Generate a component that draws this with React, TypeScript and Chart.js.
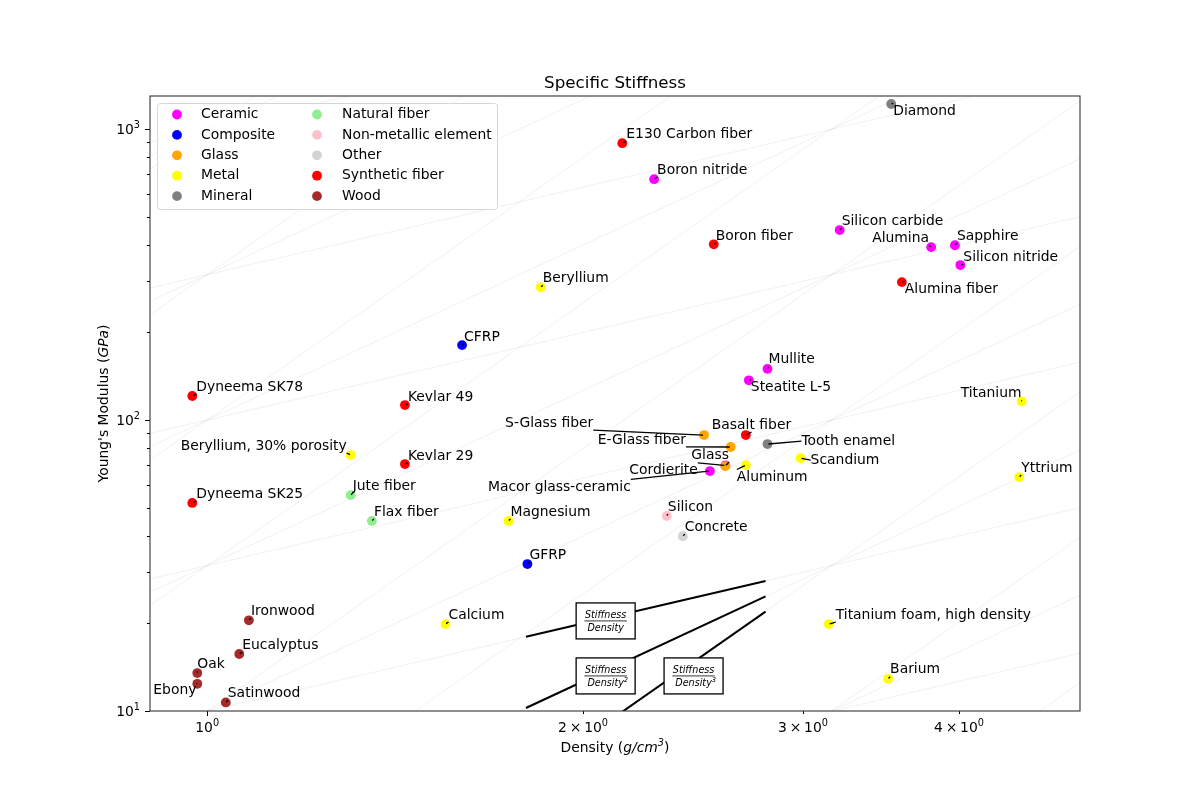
import React, { useEffect, useRef } from 'react';
import { Chart, registerables } from 'chart.js';

Chart.register(...registerables);

const FONT = '"DejaVu Sans", sans-serif';

// ---------- data ----------
const categories = [
  'Ceramic', 'Composite', 'Glass', 'Metal', 'Mineral',
  'Natural fiber', 'Non-metallic element', 'Other', 'Synthetic fiber', 'Wood',
];
const categoryColors = [
  '#ff00ff', '#0000ff', '#ffa500', '#ffff00', '#808080',
  '#90ee90', '#ffc0cb', '#d3d3d3', '#ff0000', '#a52a2a',
];

const materialNames = [
  'Diamond', 'E130 Carbon fiber', 'Boron nitride', 'Silicon carbide', 'Alumina',
  'Sapphire', 'Silicon nitride', 'Boron fiber', 'Alumina fiber', 'Beryllium',
  'CFRP', 'Mullite', 'Steatite L-5', 'Dyneema SK78', 'Kevlar 49',
  'Titanium', 'S-Glass fiber', 'Basalt fiber', 'E-Glass fiber', 'Tooth enamel',
  'Beryllium, 30% porosity', 'Kevlar 29', 'Glass', 'Scandium', 'Yttrium',
  'Cordierite', 'Aluminum', 'Macor glass-ceramic', 'Jute fiber', 'Dyneema SK25',
  'Silicon', 'Magnesium', 'Flax fiber', 'Concrete', 'GFRP',
  'Ironwood', 'Calcium', 'Titanium foam, high density', 'Eucalyptus', 'Oak',
  'Barium', 'Ebony', 'Satinwood',
];
const materialCategories = [
  'Mineral', 'Synthetic fiber', 'Ceramic', 'Ceramic', 'Ceramic',
  'Ceramic', 'Ceramic', 'Synthetic fiber', 'Synthetic fiber', 'Metal',
  'Composite', 'Ceramic', 'Ceramic', 'Synthetic fiber', 'Synthetic fiber',
  'Metal', 'Glass', 'Synthetic fiber', 'Glass', 'Mineral',
  'Metal', 'Synthetic fiber', 'Glass', 'Metal', 'Metal',
  'Ceramic', 'Metal', 'Ceramic', 'Natural fiber', 'Synthetic fiber',
  'Non-metallic element', 'Metal', 'Natural fiber', 'Other', 'Composite',
  'Wood', 'Metal', 'Metal', 'Wood', 'Wood',
  'Metal', 'Wood', 'Wood',
];
// density in g/cm^3
const densities = [
  3.53, 2.15, 2.28, 3.21, 3.80,
  3.97, 4.01, 2.545, 3.60, 1.85,
  1.60, 2.81, 2.715, 0.973, 1.44,
  4.49, 2.50, 2.70, 2.626, 2.81,
  1.303, 1.44, 2.60, 2.987, 4.47,
  2.60, 2.70, 2.527, 1.303, 0.973,
  2.334, 1.743, 1.355, 2.404, 1.805,
  1.08, 1.552, 3.146, 1.061, 0.982,
  3.51, 0.982, 1.035,
];
// Young's modulus in GPa
const moduli = [
  1220, 895, 673, 450, 393,
  399, 341, 402, 298, 286,
  181, 150, 137, 121, 112.6,
  116, 88.8, 88.8, 80.8, 82.7,
  75.8, 70.6, 69.5, 74, 63.7,
  69.8, 70, 66.8, 55.2, 51.9,
  46.8, 45.0, 45.0, 39.9, 32.0,
  20.5, 19.9, 19.9, 15.7, 13.5,
  12.9, 12.4, 10.7,
];

// reference lines: E = c * rho^n
const guideExponents = [1, 2, 3];
const guideConstants = [0.1, 0.316, 1, 3.16, 10, 31.6, 100, 316, 1000, 3162];
const stiffLineExponents = [1, 2, 3];
const stiffLineConstants = [10, 3.16, 1];
const stiffLineRange = [1.8, 2.8];

const xTicks = [1, 2, 3, 4];
const xTickMantissa = ['', '2', '3', '4'];
const yTicks = [10, 20, 30, 40, 50, 60, 70, 80, 90, 100, 200, 300, 400, 500, 600, 700, 800, 900, 1000];
const yMajorTicks = [10, 100, 1000];
const yMajorExponents = ['1', '2', '3'];

// ---------- layout (pixels / annotation anchors) ----------
const labelOffsets: [number, number][] = [
  [2, 7], [4, -9], [3, -9], [2, -9], [-59, -9],
  [2, -9], [3, -8], [2, -8], [3, 7], [2, -9],
  [2, -8], [1, -9], [2, 7], [4, -9], [3, -8],
  [-61, -8], [-199, -12], [-34, -10], [-133, -7], [34, -3],
  [-170, -9], [3, -8], [-34, -11], [10, 2], [2, -9],
  [-96, 5], [-9, 12], [-222, 16], [2, -9], [4, -9],
  [1, -9], [2, -9], [2, -9], [2, -9], [2, -9],
  [2, -9], [3, -9], [7, -9], [3, -9], [0, -9],
  [2, -9], [-44, 7], [2, -9],
];
const boxAnchorsX = [2.085, 2.085, 2.452];
const boxAnchorsY = [20.4, 13.2, 13.2];
const boxPowers = ['', '2', '3'];

type Run = { t: string; it?: boolean; sup?: boolean };

function fontFor(r: Run, size: number) {
  return `${r.it ? 'italic ' : ''}${r.sup ? size * 0.7 : size}px ${FONT}`;
}

function runsWidth(ctx: CanvasRenderingContext2D, runs: Run[], size: number) {
  let w = 0;
  for (const r of runs) {
    ctx.font = fontFor(r, size);
    w += ctx.measureText(r.t).width;
  }
  return w;
}

function drawRuns(ctx: CanvasRenderingContext2D, runs: Run[], x: number, y: number, size: number, align: 'center' | 'left' | 'right' = 'center') {
  const total = runsWidth(ctx, runs, size);
  let cx = align === 'center' ? x - total / 2 : align === 'right' ? x - total : x;
  ctx.textAlign = 'left';
  ctx.textBaseline = 'alphabetic';
  for (const r of runs) {
    ctx.font = fontFor(r, size);
    ctx.fillText(r.t, cx, r.sup ? y - size * 0.42 : y);
    cx += ctx.measureText(r.t).width;
  }
}

const overlayPlugin = {
  id: 'overlay',
  afterDatasetsDraw(chart: any) {
    const ctx: CanvasRenderingContext2D = chart.ctx;
    const xs = chart.scales.x;
    const ys = chart.scales.y;
    const area = chart.chartArea;
    ctx.save();

    // boxed formula labels
    for (let i = 0; i < boxAnchorsX.length; i++) {
      const cx = xs.getPixelForValue(boxAnchorsX[i]);
      const cy = ys.getPixelForValue(boxAnchorsY[i]);
      const bw = 59, bh = 36;
      ctx.fillStyle = '#ffffff';
      ctx.fillRect(cx - bw / 2, cy - bh / 2, bw, bh);
      ctx.strokeStyle = '#000000';
      ctx.lineWidth = 1.3;
      ctx.strokeRect(cx - bw / 2, cy - bh / 2, bw, bh);
      ctx.fillStyle = '#000';
      const fs = 9.6;
      const num: Run[] = [{ t: 'Stiffness', it: true }];
      const den: Run[] = [{ t: 'Density', it: true }];
      if (boxPowers[i]) den.push({ t: boxPowers[i], it: true, sup: true });
      const w1 = runsWidth(ctx, num, fs);
      const w2 = runsWidth(ctx, [{ t: 'Density', it: true }], fs);
      const barW = Math.max(w1, w2) + 1;
      drawRuns(ctx, num, cx, cy - 3, fs);
      ctx.beginPath();
      ctx.lineWidth = 0.8;
      ctx.moveTo(cx - barW / 2, cy);
      ctx.lineTo(cx + barW / 2, cy);
      ctx.stroke();
      drawRuns(ctx, den, cx - w2 / 2, cy + 10, fs, 'left');
    }

    // point labels with leader lines (matplotlib-like: nearest bbox corner/edge-midpoint)
    const ls = 13.9;
    for (let i = 0; i < materialNames.length; i++) {
      const px = xs.getPixelForValue(densities[i]);
      const py = ys.getPixelForValue(moduli[i]);
      const tx = px + labelOffsets[i][0];
      const ty = py + labelOffsets[i][1];
      ctx.font = `${ls}px ${FONT}`;
      const w = ctx.measureText(materialNames[i]).width;
      const l = tx, r = tx + w, xc = tx + w / 2;
      const t = ty - ls * 0.55, b = ty + ls * 0.5, yc = ty;
      const xsCand = [l, xc, r];
      const ysCand = [b, yc, t];
      let sx = l, best = Infinity;
      for (const v of xsCand) if (Math.abs(v - px) < best) { best = Math.abs(v - px); sx = v; }
      let sy = b; best = Infinity;
      for (const v of ysCand) if (Math.abs(v - py) < best) { best = Math.abs(v - py); sy = v; }
      const inside = px >= l && px <= r && py >= t && py <= b;
      if (!inside) {
        const len = Math.hypot(px - sx, py - sy);
        if (len > 1) {
          const shrink = Math.min(1, len * 0.2);
          const ex = px - (px - sx) / len * shrink;
          const ey = py - (py - sy) / len * shrink;
          ctx.beginPath();
          ctx.strokeStyle = '#000';
          ctx.lineWidth = 1.3;
          ctx.moveTo(sx, sy);
          ctx.lineTo(ex, ey);
          ctx.stroke();
        }
      }
      ctx.fillStyle = '#000';
      ctx.textAlign = 'left';
      ctx.textBaseline = 'middle';
      ctx.font = `${ls}px ${FONT}`;
      ctx.fillText(materialNames[i], tx, ty);
    }

    // ticks
    ctx.strokeStyle = '#000';
    ctx.lineWidth = 1;
    for (const v of xTicks) {
      const x = Math.round(xs.getPixelForValue(v)) + 0.5;
      const len = v === 1 ? 5 : 3;
      ctx.beginPath();
      ctx.moveTo(x, area.bottom);
      ctx.lineTo(x, area.bottom + len);
      ctx.stroke();
    }
    for (const v of yTicks) {
      const y = Math.round(ys.getPixelForValue(v)) + 0.5;
      const major = yMajorTicks.includes(v);
      const len = major ? 5 : 3;
      ctx.beginPath();
      ctx.moveTo(area.left, y);
      ctx.lineTo(area.left - len, y);
      ctx.stroke();
    }

    // tick labels
    ctx.fillStyle = '#000';
    xTicks.forEach((v, i) => {
      const x = xs.getPixelForValue(v);
      const runs: Run[] = xTickMantissa[i]
        ? [{ t: `${xTickMantissa[i]}\u2009×\u200910` }, { t: '0', sup: true }]
        : [{ t: '10' }, { t: '0', sup: true }];
      drawRuns(ctx, runs, x, area.bottom + 21, 13.9);
    });
    yMajorTicks.forEach((v, i) => {
      const y = ys.getPixelForValue(v);
      drawRuns(ctx, [{ t: '10' }, { t: yMajorExponents[i], sup: true }], area.left - 10, y + 5, 13.9, 'right');
    });

    // frame
    ctx.strokeStyle = '#333';
    ctx.lineWidth = 1.1;
    ctx.strokeRect(area.left, area.top, area.right - area.left, area.bottom - area.top);

    // title and axis titles
    ctx.fillStyle = '#000';
    drawRuns(ctx, [{ t: 'Specific Stiffness' }], (area.left + area.right) / 2, 88, 16.7);
    drawRuns(ctx, [{ t: 'Density (' }, { t: 'g/cm', it: true }, { t: '3', it: true, sup: true }, { t: ')' }],
      (area.left + area.right) / 2, 752, 13.9);
    ctx.save();
    ctx.translate(108, (area.top + area.bottom) / 2);
    ctx.rotate(-Math.PI / 2);
    drawRuns(ctx, [{ t: "Young's Modulus (" }, { t: 'GPa', it: true }, { t: ')' }], 0, 0, 13.9);
    ctx.restore();

    // legend
    const lx = 157, ly = 103, lw = 340, lh = 106;
    ctx.beginPath();
    if ((ctx as any).roundRect) (ctx as any).roundRect(lx + 0.5, ly + 0.5, lw, lh, 3);
    else ctx.rect(lx + 0.5, ly + 0.5, lw, lh);
    ctx.fillStyle = 'rgba(255,255,255,0.8)';
    ctx.fill();
    ctx.strokeStyle = '#d6d6d6';
    ctx.lineWidth = 1;
    ctx.stroke();
    const colMarker = [177, 317];
    const colText = [201, 342];
    for (let i = 0; i < categories.length; i++) {
      const col = Math.floor(i / 5);
      const row = i % 5;
      const y = 114.5 + row * 20.4;
      ctx.beginPath();
      ctx.arc(colMarker[col], y, 4.9, 0, Math.PI * 2);
      ctx.fillStyle = categoryColors[i];
      ctx.fill();
      ctx.fillStyle = '#000';
      ctx.font = `13.9px ${FONT}`;
      ctx.textAlign = 'left';
      ctx.textBaseline = 'middle';
      ctx.fillText(categories[i], colText[col], y);
    }

    ctx.restore();
  },
};

export default function App() {
  const ref = useRef<HTMLCanvasElement | null>(null);

  useEffect(() => {
    if (!ref.current) return;

    const guideSets: any[] = [];
    for (const n of guideExponents) {
      for (const c of guideConstants) {
        guideSets.push({
          label: `guide-${n}-${c}`,
          data: [0.9, 5].map((x) => ({ x, y: c * Math.pow(x, n) })),
          showLine: true,
          borderColor: 'rgba(0,0,0,0.08)',
          borderWidth: 0.8,
          pointRadius: 0,
          order: 20,
        });
      }
    }
    const stiffSets = stiffLineExponents.map((n, i) => ({
      label: `stiff-${n}`,
      data: stiffLineRange.map((x) => ({ x, y: stiffLineConstants[i] * Math.pow(x, n) })),
      showLine: true,
      borderColor: '#000',
      borderWidth: 2,
      pointRadius: 0,
      order: 10,
    }));
    const pointSets = categories.map((cat, ci) => ({
      label: cat,
      data: materialNames
        .map((_, i) => i)
        .filter((i) => materialCategories[i] === cat)
        .map((i) => ({ x: densities[i], y: moduli[i] })),
      backgroundColor: categoryColors[ci],
      borderWidth: 0,
      pointRadius: 4.9,
      pointHoverRadius: 4.9,
      order: categories.length - ci,
    }));

    const chart = new Chart(ref.current, {
      type: 'scatter',
      data: { datasets: [...guideSets, ...stiffSets, ...pointSets] as any },
      options: {
        responsive: false,
        animation: false,
        events: [],
        layout: { padding: { top: 96, right: 120, left: 0, bottom: 0 } },
        plugins: {
          legend: { display: false },
          tooltip: { enabled: false },
          title: { display: false },
        },
        scales: {
          x: {
            type: 'logarithmic',
            min: 0.9,
            max: 5.0,
            grid: { display: false, drawTicks: false },
            border: { display: false },
            afterBuildTicks: (s: any) => {
              s.ticks = xTicks.map((v) => ({ value: v }));
            },
            afterFit: (s: any) => {
              s.height = 89;
            },
            ticks: { display: false },
          },
          y: {
            type: 'logarithmic',
            min: 10,
            max: 1300,
            grid: { display: false, drawTicks: false },
            border: { display: false },
            afterBuildTicks: (s: any) => {
              s.ticks = yTicks.map((v) => ({ value: v }));
            },
            afterFit: (s: any) => {
              s.width = 150;
            },
            ticks: { display: false },
          },
        },
      },
      plugins: [overlayPlugin],
    });

    return () => chart.destroy();
  }, []);

  return (
    <div style={{ position: 'absolute', left: 0, top: 0, width: 1200, height: 800, background: '#fff' }}>
      <canvas ref={ref} width={1200} height={800} style={{ width: 1200, height: 800 }} />
    </div>
  );
}
